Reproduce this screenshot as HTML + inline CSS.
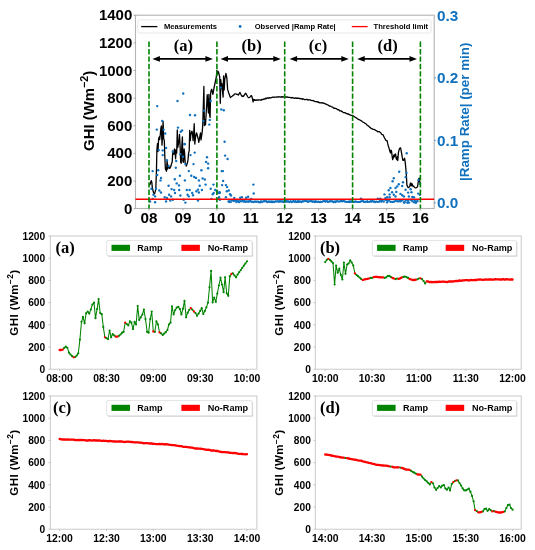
<!DOCTYPE html>
<html lang="en"><head><meta charset="utf-8"><title>GHI ramp detection</title>
<style>html,body{margin:0;padding:0;background:#fff}svg{display:block}</style></head>
<body>
<svg width="535" height="550" viewBox="0 0 535 550">
<rect width="535" height="550" fill="#fff"/>
<rect x="135.5" y="15.2" width="298.7" height="193.3" fill="#fff" stroke="#b4b4b4" stroke-width="1.1"/>
<line x1="133.5" y1="208.7" x2="135.5" y2="208.7" stroke="#999" stroke-width="0.8"/>
<text x="132.3" y="213.7" text-anchor="end" style="font-family:'Liberation Sans',sans-serif;font-weight:bold;font-size:15px" fill="#000">0</text>
<line x1="133.5" y1="181.1" x2="135.5" y2="181.1" stroke="#999" stroke-width="0.8"/>
<text x="132.3" y="186.1" text-anchor="end" style="font-family:'Liberation Sans',sans-serif;font-weight:bold;font-size:15px" fill="#000">200</text>
<line x1="133.5" y1="153.4" x2="135.5" y2="153.4" stroke="#999" stroke-width="0.8"/>
<text x="132.3" y="158.4" text-anchor="end" style="font-family:'Liberation Sans',sans-serif;font-weight:bold;font-size:15px" fill="#000">400</text>
<line x1="133.5" y1="125.8" x2="135.5" y2="125.8" stroke="#999" stroke-width="0.8"/>
<text x="132.3" y="130.8" text-anchor="end" style="font-family:'Liberation Sans',sans-serif;font-weight:bold;font-size:15px" fill="#000">600</text>
<line x1="133.5" y1="98.2" x2="135.5" y2="98.2" stroke="#999" stroke-width="0.8"/>
<text x="132.3" y="103.2" text-anchor="end" style="font-family:'Liberation Sans',sans-serif;font-weight:bold;font-size:15px" fill="#000">800</text>
<line x1="133.5" y1="70.5" x2="135.5" y2="70.5" stroke="#999" stroke-width="0.8"/>
<text x="132.3" y="75.5" text-anchor="end" style="font-family:'Liberation Sans',sans-serif;font-weight:bold;font-size:15px" fill="#000">1000</text>
<line x1="133.5" y1="42.9" x2="135.5" y2="42.9" stroke="#999" stroke-width="0.8"/>
<text x="132.3" y="47.9" text-anchor="end" style="font-family:'Liberation Sans',sans-serif;font-weight:bold;font-size:15px" fill="#000">1200</text>
<line x1="133.5" y1="15.3" x2="135.5" y2="15.3" stroke="#999" stroke-width="0.8"/>
<text x="132.3" y="20.3" text-anchor="end" style="font-family:'Liberation Sans',sans-serif;font-weight:bold;font-size:15px" fill="#000">1400</text>
<line x1="149.0" y1="208.5" x2="149.0" y2="210.5" stroke="#999" stroke-width="0.8"/>
<text x="149.0" y="223.1" text-anchor="middle" style="font-family:'Liberation Sans',sans-serif;font-weight:bold;font-size:15.2px" fill="#000">08</text>
<line x1="182.9" y1="208.5" x2="182.9" y2="210.5" stroke="#999" stroke-width="0.8"/>
<text x="182.9" y="223.1" text-anchor="middle" style="font-family:'Liberation Sans',sans-serif;font-weight:bold;font-size:15.2px" fill="#000">09</text>
<line x1="216.9" y1="208.5" x2="216.9" y2="210.5" stroke="#999" stroke-width="0.8"/>
<text x="216.9" y="223.1" text-anchor="middle" style="font-family:'Liberation Sans',sans-serif;font-weight:bold;font-size:15.2px" fill="#000">10</text>
<line x1="250.8" y1="208.5" x2="250.8" y2="210.5" stroke="#999" stroke-width="0.8"/>
<text x="250.8" y="223.1" text-anchor="middle" style="font-family:'Liberation Sans',sans-serif;font-weight:bold;font-size:15.2px" fill="#000">11</text>
<line x1="284.7" y1="208.5" x2="284.7" y2="210.5" stroke="#999" stroke-width="0.8"/>
<text x="284.7" y="223.1" text-anchor="middle" style="font-family:'Liberation Sans',sans-serif;font-weight:bold;font-size:15.2px" fill="#000">12</text>
<line x1="318.6" y1="208.5" x2="318.6" y2="210.5" stroke="#999" stroke-width="0.8"/>
<text x="318.6" y="223.1" text-anchor="middle" style="font-family:'Liberation Sans',sans-serif;font-weight:bold;font-size:15.2px" fill="#000">13</text>
<line x1="352.6" y1="208.5" x2="352.6" y2="210.5" stroke="#999" stroke-width="0.8"/>
<text x="352.6" y="223.1" text-anchor="middle" style="font-family:'Liberation Sans',sans-serif;font-weight:bold;font-size:15.2px" fill="#000">14</text>
<line x1="386.5" y1="208.5" x2="386.5" y2="210.5" stroke="#999" stroke-width="0.8"/>
<text x="386.5" y="223.1" text-anchor="middle" style="font-family:'Liberation Sans',sans-serif;font-weight:bold;font-size:15.2px" fill="#000">15</text>
<line x1="420.4" y1="208.5" x2="420.4" y2="210.5" stroke="#999" stroke-width="0.8"/>
<text x="420.4" y="223.1" text-anchor="middle" style="font-family:'Liberation Sans',sans-serif;font-weight:bold;font-size:15.2px" fill="#000">16</text>
<line x1="434.2" y1="202.8" x2="435.8" y2="202.8" stroke="#1071be" stroke-width="0.8"/>
<text x="437.1" y="208.2" style="font-family:'Liberation Sans',sans-serif;font-weight:bold;font-size:15.3px" fill="#1071be">0.0</text>
<line x1="434.2" y1="140.3" x2="435.8" y2="140.3" stroke="#1071be" stroke-width="0.8"/>
<text x="437.1" y="145.7" style="font-family:'Liberation Sans',sans-serif;font-weight:bold;font-size:15.3px" fill="#1071be">0.1</text>
<line x1="434.2" y1="77.8" x2="435.8" y2="77.8" stroke="#1071be" stroke-width="0.8"/>
<text x="437.1" y="83.2" style="font-family:'Liberation Sans',sans-serif;font-weight:bold;font-size:15.3px" fill="#1071be">0.2</text>
<text x="437.1" y="20.7" style="font-family:'Liberation Sans',sans-serif;font-weight:bold;font-size:15.3px" fill="#1071be">0.3</text>
<text transform="translate(93.6,110.9) rotate(-90)" text-anchor="middle" style="font-family:'Liberation Sans',sans-serif;font-weight:bold;font-size:14.9px" fill="#000">GHI (Wm<tspan dy="-5.8" font-size="10.7px">−2</tspan><tspan dy="5.8">)</tspan></text>
<text transform="translate(469.4,111.8) rotate(-90)" text-anchor="middle" style="font-family:'Liberation Sans',sans-serif;font-weight:bold;font-size:13.4px" fill="#1071be">|Ramp Rate| (per min)</text>
<polyline fill="none" stroke="#000" stroke-width="1.3" stroke-linejoin="round" points="149.0,184.8 149.6,184.8 150.1,184.4 150.7,182.1 151.3,180.7 151.8,182.1 152.4,188.2 153.0,190.5 153.5,192.5 154.1,193.9 154.7,193.4 155.2,191.6 155.8,188.9 156.4,171.9 156.9,149.7 157.5,143.6 158.0,151.5 158.6,139.1 159.2,136.8 159.7,139.5 160.3,134.6 160.9,128.2 161.4,126.0 162.0,145.2 162.6,133.9 163.1,121.4 163.7,138.9 164.3,140.2 164.8,156.1 165.4,169.0 166.0,170.1 166.5,171.2 167.1,160.6 167.7,169.0 168.2,165.1 168.8,166.7 169.4,168.3 169.9,168.3 170.5,167.2 171.1,165.6 171.6,163.3 172.2,162.2 172.8,150.9 173.3,152.4 173.9,154.3 174.4,149.0 175.0,150.9 175.6,158.8 176.1,149.7 176.7,153.1 177.3,130.0 177.8,147.5 178.4,144.1 179.0,140.7 179.5,134.3 180.1,146.3 180.7,162.2 181.2,163.3 181.8,146.3 182.4,136.8 182.9,161.7 183.5,162.2 184.1,149.0 184.6,153.1 185.2,162.9 185.8,164.0 186.3,166.0 186.9,164.4 187.5,162.6 188.0,159.9 188.6,153.1 189.2,150.9 189.7,130.5 190.3,140.7 190.8,135.0 191.4,132.1 192.0,131.2 192.5,133.9 193.1,140.7 193.7,133.4 194.2,123.7 194.8,144.1 195.4,138.4 195.9,135.0 196.5,132.8 197.1,134.6 197.6,136.8 198.2,138.9 198.8,142.3 199.3,139.5 199.9,136.2 200.5,132.8 201.0,140.0 201.6,136.2 202.2,131.6 202.7,126.0 203.3,106.7 203.9,86.4 204.4,125.5 205.0,119.6 205.5,124.8 206.1,114.7 206.7,104.5 207.2,94.7 207.8,103.3 208.4,112.8 208.9,94.3 209.5,114.2 210.1,117.4 210.6,93.2 211.2,90.2 211.8,89.3 212.3,92.0 212.9,94.3 213.5,90.9 214.0,88.0 214.6,85.2 215.2,82.5 215.7,79.8 216.3,77.1 216.9,70.5 217.4,74.0 218.0,71.3 218.6,72.5 219.1,74.6 219.7,76.6 220.3,103.3 220.8,79.7 221.4,88.7 221.9,83.5 222.5,91.2 223.1,97.1 223.6,75.9 224.2,89.9 224.8,78.4 225.3,77.2 225.9,73.3 226.5,75.9 227.0,79.7 227.6,89.4 228.2,91.2 228.7,93.0 229.3,94.6 229.9,96.3 230.4,97.6 231.0,97.1 231.6,96.6 232.1,96.3 232.7,95.8 233.3,95.1 233.8,95.1 234.4,94.0 235.0,93.8 235.5,93.8 236.1,94.0 236.7,94.3 237.2,94.3 237.8,94.3 238.3,95.1 238.9,94.3 239.5,93.0 240.0,92.5 240.6,93.8 241.2,95.1 241.7,95.8 242.3,96.6 242.9,95.8 243.4,96.3 244.0,95.6 244.6,94.6 245.1,93.8 245.7,93.3 246.3,94.0 246.8,95.1 247.4,96.3 248.0,97.1 248.5,97.6 249.1,97.6 249.7,97.4 250.2,96.9 250.8,95.8 251.4,95.6 251.9,96.6 252.5,98.9 253.1,102.0 253.6,99.3 254.2,99.6 254.7,100.4 255.3,100.0 255.9,100.3 256.4,100.1 257.0,99.9 257.6,100.2 258.1,99.8 258.7,100.1 259.3,99.8 259.8,99.8 260.4,100.0 261.0,100.3 261.5,99.6 262.1,99.4 262.7,99.5 263.2,99.6 263.8,99.1 264.4,98.8 264.9,99.0 265.5,98.2 266.1,98.7 266.6,98.2 267.2,98.0 267.8,97.9 268.3,98.0 268.9,98.3 269.5,97.7 270.0,97.9 270.6,97.9 271.1,97.6 271.7,97.6 272.3,97.2 272.8,97.1 273.4,97.2 274.0,97.5 274.5,97.2 275.1,97.1 275.7,97.2 276.2,97.1 276.8,96.9 277.4,97.2 277.9,97.1 278.5,96.7 279.1,96.9 279.6,96.8 280.2,97.1 280.8,97.0 281.3,96.7 281.9,97.3 282.5,96.7 283.0,96.9 283.6,97.2 284.2,96.8 284.7,97.1 285.3,96.9 285.9,97.0 286.4,97.0 287.0,97.3 287.5,96.9 288.1,97.3 288.7,97.3 289.2,97.3 289.8,97.3 290.4,97.7 290.9,97.8 291.5,97.6 292.1,97.8 292.6,97.4 293.2,97.9 293.8,98.0 294.3,98.3 294.9,98.3 295.5,97.9 296.0,98.1 296.6,98.4 297.2,98.0 297.7,98.4 298.3,98.2 298.9,98.3 299.4,98.3 300.0,98.9 300.6,98.5 301.1,98.6 301.7,98.8 302.3,99.3 302.8,98.7 303.4,99.1 303.9,99.2 304.5,99.6 305.1,99.6 305.6,99.7 306.2,99.3 306.8,99.5 307.3,99.5 307.9,100.0 308.5,100.1 309.0,99.7 309.6,99.8 310.2,100.0 310.7,100.1 311.3,100.5 311.9,100.7 312.4,100.6 313.0,100.5 313.6,100.9 314.1,101.0 314.7,101.3 315.3,101.7 315.8,101.7 316.4,101.7 317.0,101.9 317.5,102.1 318.1,101.7 318.6,102.5 319.2,102.5 319.8,102.8 320.3,102.8 320.9,102.7 321.5,102.8 322.0,102.7 322.6,103.2 323.2,102.9 323.7,103.1 324.3,103.4 324.9,103.7 325.4,104.0 326.0,104.1 326.6,104.3 327.1,104.6 327.7,104.9 328.3,105.3 328.8,105.3 329.4,106.2 330.0,106.2 330.5,106.1 331.1,106.5 331.7,106.8 332.2,107.0 332.8,107.1 333.4,107.9 333.9,108.3 334.5,108.1 335.0,108.4 335.6,108.3 336.2,108.6 336.7,109.0 337.3,109.3 337.9,109.9 338.4,109.7 339.0,109.9 339.6,110.8 340.1,110.8 340.7,110.8 341.3,111.3 341.8,111.2 342.4,111.8 343.0,112.4 343.5,112.6 344.1,112.7 344.7,112.7 345.2,113.0 345.8,113.0 346.4,113.6 346.9,113.6 347.5,114.0 348.1,113.9 348.6,114.0 349.2,114.6 349.8,114.9 350.3,115.0 350.9,115.1 351.4,115.3 352.0,115.5 352.6,115.3 353.1,116.0 353.7,116.2 354.3,116.6 354.8,117.0 355.4,117.3 356.0,117.8 356.5,118.2 357.1,118.4 357.7,118.9 358.2,119.2 358.8,119.6 359.4,119.7 359.9,120.0 360.5,120.4 361.1,120.7 361.6,121.0 362.2,121.5 362.8,121.9 363.3,122.3 363.9,122.5 364.5,122.9 365.0,123.3 365.6,123.5 366.2,124.1 366.7,124.7 367.3,125.1 367.8,125.6 368.4,126.0 369.0,126.4 369.5,127.1 370.1,127.4 370.7,128.0 371.2,128.6 371.8,128.6 372.4,128.9 372.9,129.3 373.5,129.4 374.1,129.5 374.6,129.7 375.2,130.0 375.8,130.4 376.3,130.7 376.9,131.0 377.5,131.7 378.0,131.8 378.6,131.7 379.2,131.6 379.7,132.0 380.3,132.4 380.9,133.0 381.4,133.9 382.0,134.5 382.6,134.6 383.1,134.8 383.7,136.2 384.2,137.3 384.8,138.4 385.4,139.5 385.9,140.4 386.5,140.6 387.1,140.7 387.6,143.2 388.2,145.6 388.8,147.4 389.3,149.1 389.9,151.2 390.5,153.0 391.0,150.1 391.6,151.6 392.2,156.8 392.7,159.7 393.3,157.5 393.9,155.0 394.4,156.8 395.0,154.4 395.6,154.0 396.1,158.2 396.7,159.6 397.3,156.8 397.8,160.5 398.4,152.6 399.0,150.2 399.5,148.7 400.1,148.0 400.6,148.0 401.2,151.2 401.8,154.4 402.3,157.7 402.9,160.3 403.5,160.4 404.0,159.3 404.6,158.3 405.2,162.1 405.7,167.2 406.3,173.9 406.9,185.1 407.4,186.1 408.0,187.6 408.6,187.6 409.1,187.2 409.7,186.5 410.3,183.7 410.8,183.0 411.4,185.8 412.0,183.7 412.5,185.1 413.1,186.5 413.7,186.1 414.2,186.9 414.8,187.5 415.4,187.9 415.9,187.9 416.5,187.6 417.0,187.2 417.6,186.5 418.2,182.3 418.7,178.8 419.3,178.1 419.9,182.3 420.4,184.4"/>
<g fill="#1071be"><circle cx="228.2" cy="201.5" r="0.95"/><circle cx="228.7" cy="201.2" r="0.95"/><circle cx="229.3" cy="202.3" r="0.95"/><circle cx="229.9" cy="200.9" r="0.95"/><circle cx="230.4" cy="202.1" r="0.95"/><circle cx="231.0" cy="202.0" r="0.95"/><circle cx="231.6" cy="200.3" r="0.95"/><circle cx="232.1" cy="200.4" r="0.95"/><circle cx="232.7" cy="200.5" r="0.95"/><circle cx="233.3" cy="200.4" r="0.95"/><circle cx="233.8" cy="201.3" r="0.95"/><circle cx="234.4" cy="200.4" r="0.95"/><circle cx="235.0" cy="200.9" r="0.95"/><circle cx="235.5" cy="200.1" r="0.95"/><circle cx="236.1" cy="202.2" r="0.95"/><circle cx="236.7" cy="200.7" r="0.95"/><circle cx="237.2" cy="201.0" r="0.95"/><circle cx="237.8" cy="201.3" r="0.95"/><circle cx="238.3" cy="202.2" r="0.95"/><circle cx="238.9" cy="200.9" r="0.95"/><circle cx="239.5" cy="202.3" r="0.95"/><circle cx="240.0" cy="201.1" r="0.95"/><circle cx="240.6" cy="201.2" r="0.95"/><circle cx="241.2" cy="201.2" r="0.95"/><circle cx="241.7" cy="199.8" r="0.95"/><circle cx="242.3" cy="201.4" r="0.95"/><circle cx="242.9" cy="200.9" r="0.95"/><circle cx="243.4" cy="200.5" r="0.95"/><circle cx="244.0" cy="202.1" r="0.95"/><circle cx="244.6" cy="200.8" r="0.95"/><circle cx="245.1" cy="201.4" r="0.95"/><circle cx="245.7" cy="202.0" r="0.95"/><circle cx="246.3" cy="201.6" r="0.95"/><circle cx="246.8" cy="201.2" r="0.95"/><circle cx="247.4" cy="201.5" r="0.95"/><circle cx="248.0" cy="201.6" r="0.95"/><circle cx="248.5" cy="202.1" r="0.95"/><circle cx="249.1" cy="200.7" r="0.95"/><circle cx="249.7" cy="201.6" r="0.95"/><circle cx="250.2" cy="201.0" r="0.95"/><circle cx="250.8" cy="201.1" r="0.95"/><circle cx="251.4" cy="202.0" r="0.95"/><circle cx="251.9" cy="201.5" r="0.95"/><circle cx="252.5" cy="201.6" r="0.95"/><circle cx="253.1" cy="202.0" r="0.95"/><circle cx="253.6" cy="202.3" r="0.95"/><circle cx="254.2" cy="201.4" r="0.95"/><circle cx="254.7" cy="201.7" r="0.95"/><circle cx="255.3" cy="201.5" r="0.95"/><circle cx="255.9" cy="201.5" r="0.95"/><circle cx="256.4" cy="201.9" r="0.95"/><circle cx="257.0" cy="201.4" r="0.95"/><circle cx="257.6" cy="201.6" r="0.95"/><circle cx="258.1" cy="201.5" r="0.95"/><circle cx="258.7" cy="202.4" r="0.95"/><circle cx="259.3" cy="201.9" r="0.95"/><circle cx="259.8" cy="202.3" r="0.95"/><circle cx="260.4" cy="202.4" r="0.95"/><circle cx="261.0" cy="201.0" r="0.95"/><circle cx="261.5" cy="201.6" r="0.95"/><circle cx="262.1" cy="202.2" r="0.95"/><circle cx="262.7" cy="202.1" r="0.95"/><circle cx="263.2" cy="201.1" r="0.95"/><circle cx="263.8" cy="201.1" r="0.95"/><circle cx="264.4" cy="201.5" r="0.95"/><circle cx="264.9" cy="201.0" r="0.95"/><circle cx="265.5" cy="201.2" r="0.95"/><circle cx="266.1" cy="201.0" r="0.95"/><circle cx="266.6" cy="201.8" r="0.95"/><circle cx="267.2" cy="202.0" r="0.95"/><circle cx="267.8" cy="202.2" r="0.95"/><circle cx="268.3" cy="201.1" r="0.95"/><circle cx="268.9" cy="201.9" r="0.95"/><circle cx="269.5" cy="201.8" r="0.95"/><circle cx="270.0" cy="201.1" r="0.95"/><circle cx="270.6" cy="202.1" r="0.95"/><circle cx="271.1" cy="202.3" r="0.95"/><circle cx="271.7" cy="201.2" r="0.95"/><circle cx="272.3" cy="202.2" r="0.95"/><circle cx="272.8" cy="201.5" r="0.95"/><circle cx="273.4" cy="201.6" r="0.95"/><circle cx="274.0" cy="202.3" r="0.95"/><circle cx="274.5" cy="202.1" r="0.95"/><circle cx="275.1" cy="201.1" r="0.95"/><circle cx="275.7" cy="201.5" r="0.95"/><circle cx="276.2" cy="201.6" r="0.95"/><circle cx="276.8" cy="201.4" r="0.95"/><circle cx="277.4" cy="201.2" r="0.95"/><circle cx="277.9" cy="201.3" r="0.95"/><circle cx="278.5" cy="201.9" r="0.95"/><circle cx="279.1" cy="200.9" r="0.95"/><circle cx="279.6" cy="201.7" r="0.95"/><circle cx="280.2" cy="201.5" r="0.95"/><circle cx="280.8" cy="200.9" r="0.95"/><circle cx="281.3" cy="201.4" r="0.95"/><circle cx="281.9" cy="201.8" r="0.95"/><circle cx="282.5" cy="201.6" r="0.95"/><circle cx="283.0" cy="201.0" r="0.95"/><circle cx="283.6" cy="202.3" r="0.95"/><circle cx="284.2" cy="202.0" r="0.95"/><circle cx="284.7" cy="202.3" r="0.95"/><circle cx="285.3" cy="201.0" r="0.95"/><circle cx="285.9" cy="201.3" r="0.95"/><circle cx="286.4" cy="201.0" r="0.95"/><circle cx="287.0" cy="202.0" r="0.95"/><circle cx="287.5" cy="201.3" r="0.95"/><circle cx="288.1" cy="201.1" r="0.95"/><circle cx="288.7" cy="201.5" r="0.95"/><circle cx="289.2" cy="202.2" r="0.95"/><circle cx="289.8" cy="202.0" r="0.95"/><circle cx="290.4" cy="201.3" r="0.95"/><circle cx="290.9" cy="201.1" r="0.95"/><circle cx="291.5" cy="202.2" r="0.95"/><circle cx="292.1" cy="201.7" r="0.95"/><circle cx="292.6" cy="201.9" r="0.95"/><circle cx="293.2" cy="201.0" r="0.95"/><circle cx="293.8" cy="201.0" r="0.95"/><circle cx="294.3" cy="201.9" r="0.95"/><circle cx="294.9" cy="201.5" r="0.95"/><circle cx="295.5" cy="201.0" r="0.95"/><circle cx="296.0" cy="202.2" r="0.95"/><circle cx="296.6" cy="201.8" r="0.95"/><circle cx="297.2" cy="202.0" r="0.95"/><circle cx="297.7" cy="201.0" r="0.95"/><circle cx="298.3" cy="202.1" r="0.95"/><circle cx="298.9" cy="201.0" r="0.95"/><circle cx="299.4" cy="202.1" r="0.95"/><circle cx="300.0" cy="201.5" r="0.95"/><circle cx="300.6" cy="201.4" r="0.95"/><circle cx="301.1" cy="201.7" r="0.95"/><circle cx="301.7" cy="202.2" r="0.95"/><circle cx="302.3" cy="201.3" r="0.95"/><circle cx="302.8" cy="201.1" r="0.95"/><circle cx="303.4" cy="201.6" r="0.95"/><circle cx="303.9" cy="201.2" r="0.95"/><circle cx="304.5" cy="201.1" r="0.95"/><circle cx="305.1" cy="201.1" r="0.95"/><circle cx="305.6" cy="201.0" r="0.95"/><circle cx="306.2" cy="201.2" r="0.95"/><circle cx="306.8" cy="201.3" r="0.95"/><circle cx="307.3" cy="201.3" r="0.95"/><circle cx="307.9" cy="202.0" r="0.95"/><circle cx="308.5" cy="201.3" r="0.95"/><circle cx="309.0" cy="201.6" r="0.95"/><circle cx="309.6" cy="201.1" r="0.95"/><circle cx="310.2" cy="201.4" r="0.95"/><circle cx="310.7" cy="200.9" r="0.95"/><circle cx="311.3" cy="201.3" r="0.95"/><circle cx="311.9" cy="200.9" r="0.95"/><circle cx="312.4" cy="201.9" r="0.95"/><circle cx="313.0" cy="201.7" r="0.95"/><circle cx="313.6" cy="201.2" r="0.95"/><circle cx="314.1" cy="201.6" r="0.95"/><circle cx="314.7" cy="202.2" r="0.95"/><circle cx="315.3" cy="201.0" r="0.95"/><circle cx="315.8" cy="202.0" r="0.95"/><circle cx="316.4" cy="201.5" r="0.95"/><circle cx="317.0" cy="201.6" r="0.95"/><circle cx="317.5" cy="202.1" r="0.95"/><circle cx="318.1" cy="201.5" r="0.95"/><circle cx="318.6" cy="201.6" r="0.95"/><circle cx="319.2" cy="201.9" r="0.95"/><circle cx="319.8" cy="202.3" r="0.95"/><circle cx="320.3" cy="201.4" r="0.95"/><circle cx="320.9" cy="202.1" r="0.95"/><circle cx="321.5" cy="201.9" r="0.95"/><circle cx="322.0" cy="201.8" r="0.95"/><circle cx="322.6" cy="201.5" r="0.95"/><circle cx="323.2" cy="201.4" r="0.95"/><circle cx="323.7" cy="201.0" r="0.95"/><circle cx="324.3" cy="201.1" r="0.95"/><circle cx="324.9" cy="201.0" r="0.95"/><circle cx="325.4" cy="201.9" r="0.95"/><circle cx="326.0" cy="201.3" r="0.95"/><circle cx="326.6" cy="201.1" r="0.95"/><circle cx="327.1" cy="201.0" r="0.95"/><circle cx="327.7" cy="202.1" r="0.95"/><circle cx="328.3" cy="202.1" r="0.95"/><circle cx="328.8" cy="201.8" r="0.95"/><circle cx="329.4" cy="201.3" r="0.95"/><circle cx="330.0" cy="201.2" r="0.95"/><circle cx="330.5" cy="201.3" r="0.95"/><circle cx="331.1" cy="201.5" r="0.95"/><circle cx="331.7" cy="201.1" r="0.95"/><circle cx="332.2" cy="201.5" r="0.95"/><circle cx="332.8" cy="201.3" r="0.95"/><circle cx="333.4" cy="202.2" r="0.95"/><circle cx="333.9" cy="202.3" r="0.95"/><circle cx="334.5" cy="201.7" r="0.95"/><circle cx="335.0" cy="201.2" r="0.95"/><circle cx="335.6" cy="202.3" r="0.95"/><circle cx="336.2" cy="201.3" r="0.95"/><circle cx="336.7" cy="201.4" r="0.95"/><circle cx="337.3" cy="200.9" r="0.95"/><circle cx="337.9" cy="201.4" r="0.95"/><circle cx="338.4" cy="201.6" r="0.95"/><circle cx="339.0" cy="201.6" r="0.95"/><circle cx="339.6" cy="201.2" r="0.95"/><circle cx="340.1" cy="201.6" r="0.95"/><circle cx="340.7" cy="200.9" r="0.95"/><circle cx="341.3" cy="201.3" r="0.95"/><circle cx="341.8" cy="201.0" r="0.95"/><circle cx="342.4" cy="201.5" r="0.95"/><circle cx="343.0" cy="201.0" r="0.95"/><circle cx="343.5" cy="200.9" r="0.95"/><circle cx="344.1" cy="201.3" r="0.95"/><circle cx="344.7" cy="201.2" r="0.95"/><circle cx="345.2" cy="201.7" r="0.95"/><circle cx="345.8" cy="201.6" r="0.95"/><circle cx="346.4" cy="202.0" r="0.95"/><circle cx="346.9" cy="201.8" r="0.95"/><circle cx="347.5" cy="201.9" r="0.95"/><circle cx="348.1" cy="202.1" r="0.95"/><circle cx="348.6" cy="201.4" r="0.95"/><circle cx="349.2" cy="201.4" r="0.95"/><circle cx="349.8" cy="202.3" r="0.95"/><circle cx="350.3" cy="201.1" r="0.95"/><circle cx="350.9" cy="201.9" r="0.95"/><circle cx="351.4" cy="201.8" r="0.95"/><circle cx="352.0" cy="201.0" r="0.95"/><circle cx="352.6" cy="202.1" r="0.95"/><circle cx="353.1" cy="202.1" r="0.95"/><circle cx="353.7" cy="201.8" r="0.95"/><circle cx="354.3" cy="201.9" r="0.95"/><circle cx="354.8" cy="202.0" r="0.95"/><circle cx="355.4" cy="201.1" r="0.95"/><circle cx="356.0" cy="201.6" r="0.95"/><circle cx="356.5" cy="201.6" r="0.95"/><circle cx="357.1" cy="202.1" r="0.95"/><circle cx="357.7" cy="202.0" r="0.95"/><circle cx="358.2" cy="202.1" r="0.95"/><circle cx="358.8" cy="201.7" r="0.95"/><circle cx="359.4" cy="202.1" r="0.95"/><circle cx="359.9" cy="201.9" r="0.95"/><circle cx="360.5" cy="201.9" r="0.95"/><circle cx="361.1" cy="201.2" r="0.95"/><circle cx="361.6" cy="200.9" r="0.95"/><circle cx="362.2" cy="201.1" r="0.95"/><circle cx="362.8" cy="201.4" r="0.95"/><circle cx="363.3" cy="201.0" r="0.95"/><circle cx="363.9" cy="202.1" r="0.95"/><circle cx="364.5" cy="201.7" r="0.95"/><circle cx="365.0" cy="201.8" r="0.95"/><circle cx="365.6" cy="201.8" r="0.95"/><circle cx="366.2" cy="201.9" r="0.95"/><circle cx="366.7" cy="201.6" r="0.95"/><circle cx="367.3" cy="200.9" r="0.95"/><circle cx="367.8" cy="202.0" r="0.95"/><circle cx="368.4" cy="201.9" r="0.95"/><circle cx="369.0" cy="201.6" r="0.95"/><circle cx="369.5" cy="201.6" r="0.95"/><circle cx="370.1" cy="201.8" r="0.95"/><circle cx="370.7" cy="201.0" r="0.95"/><circle cx="371.2" cy="201.9" r="0.95"/><circle cx="371.8" cy="201.3" r="0.95"/><circle cx="372.4" cy="201.0" r="0.95"/><circle cx="372.9" cy="201.3" r="0.95"/><circle cx="373.5" cy="201.9" r="0.95"/><circle cx="374.1" cy="201.2" r="0.95"/><circle cx="374.6" cy="201.9" r="0.95"/><circle cx="375.2" cy="202.3" r="0.95"/><circle cx="375.8" cy="201.6" r="0.95"/><circle cx="376.3" cy="201.4" r="0.95"/><circle cx="376.9" cy="201.6" r="0.95"/><circle cx="377.5" cy="201.9" r="0.95"/><circle cx="378.0" cy="202.0" r="0.95"/><circle cx="378.6" cy="201.8" r="0.95"/><circle cx="379.2" cy="201.8" r="0.95"/><circle cx="379.7" cy="201.0" r="0.95"/><circle cx="380.3" cy="201.1" r="0.95"/><circle cx="380.9" cy="201.3" r="0.95"/><circle cx="381.4" cy="201.9" r="0.95"/></g>
<g fill="#1071be"><circle cx="157.2" cy="106.1" r="1.2"/><circle cx="183.2" cy="93.5" r="1.2"/><circle cx="177.5" cy="101.0" r="1.2"/><circle cx="190.0" cy="115.0" r="1.2"/><circle cx="195.0" cy="115.3" r="1.2"/><circle cx="162.2" cy="120.9" r="1.2"/><circle cx="156.8" cy="129.6" r="1.2"/><circle cx="163.6" cy="129.6" r="1.2"/><circle cx="165.2" cy="133.5" r="1.2"/><circle cx="178.0" cy="127.6" r="1.2"/><circle cx="182.1" cy="130.5" r="1.2"/><circle cx="180.7" cy="131.8" r="1.2"/><circle cx="184.6" cy="143.9" r="1.2"/><circle cx="203.9" cy="110.6" r="1.2"/><circle cx="210.7" cy="101.0" r="1.2"/><circle cx="203.4" cy="120.9" r="1.2"/><circle cx="209.8" cy="119.9" r="1.2"/><circle cx="209.3" cy="124.6" r="1.2"/><circle cx="220.8" cy="87.6" r="1.2"/><circle cx="221.3" cy="109.4" r="1.2"/><circle cx="223.8" cy="110.3" r="1.2"/><circle cx="184.6" cy="144.2" r="1.2"/><circle cx="166.1" cy="147.9" r="1.2"/><circle cx="158.8" cy="150.1" r="1.2"/><circle cx="162.7" cy="150.4" r="1.2"/><circle cx="172.8" cy="151.8" r="1.2"/><circle cx="194.7" cy="152.6" r="1.2"/><circle cx="162.7" cy="155.1" r="1.2"/><circle cx="190.5" cy="155.1" r="1.2"/><circle cx="180.4" cy="154.3" r="1.2"/><circle cx="182.9" cy="156.8" r="1.2"/><circle cx="207.0" cy="157.3" r="1.2"/><circle cx="176.2" cy="161.0" r="1.2"/><circle cx="166.9" cy="160.2" r="1.2"/><circle cx="206.1" cy="161.9" r="1.2"/><circle cx="208.1" cy="163.6" r="1.2"/><circle cx="185.4" cy="164.1" r="1.2"/><circle cx="193.5" cy="164.1" r="1.2"/><circle cx="168.6" cy="166.1" r="1.2"/><circle cx="175.8" cy="167.8" r="1.2"/><circle cx="208.1" cy="168.3" r="1.2"/><circle cx="152.6" cy="171.1" r="1.2"/><circle cx="158.2" cy="170.3" r="1.2"/><circle cx="188.8" cy="171.1" r="1.2"/><circle cx="201.4" cy="170.3" r="1.2"/><circle cx="157.2" cy="175.0" r="1.2"/><circle cx="179.9" cy="175.7" r="1.2"/><circle cx="191.3" cy="175.7" r="1.2"/><circle cx="194.2" cy="177.0" r="1.2"/><circle cx="196.0" cy="177.9" r="1.2"/><circle cx="161.0" cy="177.9" r="1.2"/><circle cx="160.5" cy="180.4" r="1.2"/><circle cx="174.8" cy="179.2" r="1.2"/><circle cx="184.9" cy="180.4" r="1.2"/><circle cx="198.9" cy="180.4" r="1.2"/><circle cx="202.6" cy="178.4" r="1.2"/><circle cx="204.8" cy="179.5" r="1.2"/><circle cx="176.7" cy="183.4" r="1.2"/><circle cx="179.0" cy="185.4" r="1.2"/><circle cx="168.6" cy="185.8" r="1.2"/><circle cx="199.7" cy="185.8" r="1.2"/><circle cx="205.6" cy="184.6" r="1.2"/><circle cx="213.5" cy="184.6" r="1.2"/><circle cx="151.4" cy="188.8" r="1.2"/><circle cx="156.0" cy="188.8" r="1.2"/><circle cx="159.3" cy="190.5" r="1.2"/><circle cx="161.0" cy="192.5" r="1.2"/><circle cx="171.6" cy="189.1" r="1.2"/><circle cx="174.2" cy="190.0" r="1.2"/><circle cx="179.2" cy="190.0" r="1.2"/><circle cx="186.8" cy="190.0" r="1.2"/><circle cx="189.6" cy="190.0" r="1.2"/><circle cx="198.0" cy="189.6" r="1.2"/><circle cx="201.9" cy="190.0" r="1.2"/><circle cx="210.7" cy="188.8" r="1.2"/><circle cx="215.2" cy="190.0" r="1.2"/><circle cx="153.5" cy="194.7" r="1.2"/><circle cx="155.1" cy="196.4" r="1.2"/><circle cx="152.6" cy="198.9" r="1.2"/><circle cx="164.7" cy="197.2" r="1.2"/><circle cx="166.9" cy="198.0" r="1.2"/><circle cx="169.1" cy="194.7" r="1.2"/><circle cx="171.1" cy="196.4" r="1.2"/><circle cx="175.0" cy="193.0" r="1.2"/><circle cx="180.4" cy="195.5" r="1.2"/><circle cx="187.6" cy="194.7" r="1.2"/><circle cx="188.8" cy="196.4" r="1.2"/><circle cx="192.2" cy="193.0" r="1.2"/><circle cx="193.0" cy="195.2" r="1.2"/><circle cx="196.4" cy="191.3" r="1.2"/><circle cx="198.9" cy="192.5" r="1.2"/><circle cx="213.7" cy="193.0" r="1.2"/><circle cx="212.7" cy="194.2" r="1.2"/><circle cx="217.1" cy="191.3" r="1.2"/><circle cx="217.9" cy="193.0" r="1.2"/><circle cx="219.6" cy="192.2" r="1.2"/><circle cx="150.1" cy="201.4" r="1.2"/><circle cx="155.1" cy="202.2" r="1.2"/><circle cx="166.1" cy="201.4" r="1.2"/><circle cx="170.3" cy="200.6" r="1.2"/><circle cx="172.8" cy="199.7" r="1.2"/><circle cx="183.7" cy="199.7" r="1.2"/><circle cx="185.4" cy="202.6" r="1.2"/><circle cx="198.0" cy="200.6" r="1.2"/><circle cx="211.5" cy="198.9" r="1.2"/><circle cx="219.1" cy="197.2" r="1.2"/><circle cx="219.9" cy="199.7" r="1.2"/><circle cx="224.6" cy="141.7" r="1.2"/><circle cx="225.1" cy="155.6" r="1.2"/><circle cx="227.6" cy="159.0" r="1.2"/><circle cx="221.7" cy="171.1" r="1.2"/><circle cx="222.9" cy="171.1" r="1.2"/><circle cx="223.1" cy="180.9" r="1.2"/><circle cx="222.1" cy="185.1" r="1.2"/><circle cx="225.9" cy="185.1" r="1.2"/><circle cx="227.1" cy="187.1" r="1.2"/><circle cx="228.8" cy="190.5" r="1.2"/><circle cx="226.8" cy="191.3" r="1.2"/><circle cx="219.7" cy="193.0" r="1.2"/><circle cx="230.1" cy="194.2" r="1.2"/><circle cx="231.0" cy="195.5" r="1.2"/><circle cx="225.9" cy="197.2" r="1.2"/><circle cx="218.7" cy="198.9" r="1.2"/><circle cx="234.3" cy="198.0" r="1.2"/><circle cx="240.2" cy="197.7" r="1.2"/><circle cx="241.9" cy="197.2" r="1.2"/><circle cx="246.1" cy="197.7" r="1.2"/><circle cx="248.1" cy="196.7" r="1.2"/><circle cx="253.4" cy="184.6" r="1.2"/><circle cx="253.7" cy="193.5" r="1.2"/><circle cx="251.2" cy="198.9" r="1.2"/><circle cx="406.7" cy="153.2" r="1.2"/><circle cx="399.2" cy="171.7" r="1.2"/><circle cx="406.4" cy="172.9" r="1.2"/><circle cx="393.8" cy="178.3" r="1.2"/><circle cx="405.6" cy="177.1" r="1.2"/><circle cx="392.6" cy="181.3" r="1.2"/><circle cx="403.0" cy="182.2" r="1.2"/><circle cx="418.5" cy="180.0" r="1.2"/><circle cx="398.8" cy="184.2" r="1.2"/><circle cx="397.2" cy="186.4" r="1.2"/><circle cx="402.2" cy="186.0" r="1.2"/><circle cx="419.9" cy="183.8" r="1.2"/><circle cx="390.4" cy="188.0" r="1.2"/><circle cx="395.5" cy="188.0" r="1.2"/><circle cx="388.7" cy="190.2" r="1.2"/><circle cx="405.6" cy="189.7" r="1.2"/><circle cx="410.6" cy="189.2" r="1.2"/><circle cx="392.1" cy="192.2" r="1.2"/><circle cx="396.3" cy="191.9" r="1.2"/><circle cx="408.1" cy="192.6" r="1.2"/><circle cx="411.5" cy="192.2" r="1.2"/><circle cx="384.5" cy="194.4" r="1.2"/><circle cx="389.6" cy="194.4" r="1.2"/><circle cx="393.8" cy="194.8" r="1.2"/><circle cx="400.5" cy="193.9" r="1.2"/><circle cx="402.2" cy="195.3" r="1.2"/><circle cx="418.2" cy="193.6" r="1.2"/><circle cx="419.9" cy="194.8" r="1.2"/><circle cx="387.1" cy="197.3" r="1.2"/><circle cx="385.4" cy="198.1" r="1.2"/><circle cx="389.6" cy="197.3" r="1.2"/><circle cx="395.5" cy="196.5" r="1.2"/><circle cx="403.9" cy="196.5" r="1.2"/><circle cx="408.9" cy="196.5" r="1.2"/><circle cx="412.3" cy="197.0" r="1.2"/><circle cx="414.0" cy="197.3" r="1.2"/><circle cx="377.8" cy="198.6" r="1.2"/><circle cx="380.3" cy="198.6" r="1.2"/><circle cx="361.0" cy="198.6" r="1.2"/><circle cx="400.5" cy="200.7" r="1.2"/><circle cx="408.1" cy="200.7" r="1.2"/><circle cx="411.5" cy="199.8" r="1.2"/><circle cx="414.8" cy="200.7" r="1.2"/><circle cx="416.5" cy="201.5" r="1.2"/><circle cx="387.1" cy="202.3" r="1.2"/><circle cx="404.7" cy="202.3" r="1.2"/><circle cx="382.0" cy="200.7" r="1.2"/><circle cx="383.7" cy="201.5" r="1.2"/><circle cx="385.4" cy="199.8" r="1.2"/><circle cx="387.1" cy="200.0" r="1.2"/><circle cx="388.8" cy="200.6" r="1.2"/><circle cx="390.5" cy="201.8" r="1.2"/><circle cx="392.2" cy="201.9" r="1.2"/><circle cx="393.9" cy="201.8" r="1.2"/><circle cx="395.6" cy="200.7" r="1.2"/><circle cx="397.3" cy="201.3" r="1.2"/><circle cx="399.0" cy="201.2" r="1.2"/><circle cx="400.6" cy="201.2" r="1.2"/><circle cx="402.3" cy="200.2" r="1.2"/><circle cx="404.0" cy="202.5" r="1.2"/><circle cx="405.7" cy="200.4" r="1.2"/><circle cx="407.4" cy="202.7" r="1.2"/><circle cx="409.1" cy="202.6" r="1.2"/><circle cx="410.8" cy="199.9" r="1.2"/><circle cx="412.5" cy="201.2" r="1.2"/><circle cx="414.2" cy="202.3" r="1.2"/><circle cx="415.9" cy="202.7" r="1.2"/><circle cx="417.6" cy="201.1" r="1.2"/></g>
<line x1="135.5" y1="199.2" x2="434.2" y2="199.2" stroke="#ff0000" stroke-width="1.4"/>
<line x1="149.0" y1="41.6" x2="149.0" y2="208.5" stroke="#028402" stroke-width="1.6" stroke-dasharray="5.4,2.0"/>
<line x1="216.9" y1="41.6" x2="216.9" y2="208.5" stroke="#028402" stroke-width="1.6" stroke-dasharray="5.4,2.0"/>
<line x1="284.7" y1="41.6" x2="284.7" y2="208.5" stroke="#028402" stroke-width="1.6" stroke-dasharray="5.4,2.0"/>
<line x1="352.6" y1="41.6" x2="352.6" y2="208.5" stroke="#028402" stroke-width="1.6" stroke-dasharray="5.4,2.0"/>
<line x1="420.4" y1="41.6" x2="420.4" y2="208.5" stroke="#028402" stroke-width="1.6" stroke-dasharray="5.4,2.0"/>
<line x1="155.4" y1="58.9" x2="209.9" y2="58.9" stroke="#000" stroke-width="1.7"/>
<path d="M152.4 58.9 l7.5 -2.8 v5.6 z M212.9 58.9 l-7.5 -2.8 v5.6 z" fill="#000"/>
<line x1="223.5" y1="58.9" x2="277.8" y2="58.9" stroke="#000" stroke-width="1.7"/>
<path d="M220.5 58.9 l7.5 -2.8 v5.6 z M280.8 58.9 l-7.5 -2.8 v5.6 z" fill="#000"/>
<line x1="292.6" y1="58.9" x2="345.8" y2="58.9" stroke="#000" stroke-width="1.7"/>
<path d="M289.6 58.9 l7.5 -2.8 v5.6 z M348.8 58.9 l-7.5 -2.8 v5.6 z" fill="#000"/>
<line x1="360.2" y1="58.9" x2="414.0" y2="58.9" stroke="#000" stroke-width="1.7"/>
<path d="M357.2 58.9 l7.5 -2.8 v5.6 z M417.0 58.9 l-7.5 -2.8 v5.6 z" fill="#000"/>
<text x="183.3" y="50.6" text-anchor="middle" style="font-family:'Liberation Serif',serif;font-weight:bold;font-size:16.5px" fill="#000">(a)</text>
<text x="251.6" y="50.6" text-anchor="middle" style="font-family:'Liberation Serif',serif;font-weight:bold;font-size:16.5px" fill="#000">(b)</text>
<text x="318" y="50.6" text-anchor="middle" style="font-family:'Liberation Serif',serif;font-weight:bold;font-size:16.5px" fill="#000">(c)</text>
<text x="387.6" y="50.6" text-anchor="middle" style="font-family:'Liberation Serif',serif;font-weight:bold;font-size:16.5px" fill="#000">(d)</text>
<rect x="137.9" y="19.8" width="293.2" height="13.2" rx="1.5" fill="#fff" stroke="#e2e2e2" stroke-width="0.8"/>
<line x1="141.2" y1="26.6" x2="157.4" y2="26.6" stroke="#000" stroke-width="1.3"/>
<text x="163.9" y="29.3" style="font-family:'Liberation Sans',sans-serif;font-weight:bold;font-size:7.6px" fill="#000">Measurements</text>
<circle cx="240.1" cy="26.5" r="1.4" fill="#1071be"/>
<text x="254.7" y="29.3" style="font-family:'Liberation Sans',sans-serif;font-weight:bold;font-size:7.6px" fill="#000">Observed |Ramp Rate|</text>
<line x1="351.8" y1="26.6" x2="367.6" y2="26.6" stroke="#ff0000" stroke-width="1.3"/>
<text x="373.6" y="29.3" style="font-family:'Liberation Sans',sans-serif;font-weight:bold;font-size:7.6px" fill="#000">Threshold limit</text>
<rect x="50.3" y="236" width="206.6" height="133.2" fill="#fff" stroke="#c4c4c4" stroke-width="0.9"/>
<line x1="59.6" y1="369.2" x2="59.6" y2="371.0" stroke="#b0b0b0" stroke-width="0.7"/>
<text x="59.6" y="381.9" text-anchor="middle" style="font-family:'Liberation Sans',sans-serif;font-weight:bold;font-size:10.4px" fill="#000">08:00</text>
<line x1="106.5" y1="369.2" x2="106.5" y2="371.0" stroke="#b0b0b0" stroke-width="0.7"/>
<text x="106.5" y="381.9" text-anchor="middle" style="font-family:'Liberation Sans',sans-serif;font-weight:bold;font-size:10.4px" fill="#000">08:30</text>
<line x1="153.3" y1="369.2" x2="153.3" y2="371.0" stroke="#b0b0b0" stroke-width="0.7"/>
<text x="153.3" y="381.9" text-anchor="middle" style="font-family:'Liberation Sans',sans-serif;font-weight:bold;font-size:10.4px" fill="#000">09:00</text>
<line x1="200.2" y1="369.2" x2="200.2" y2="371.0" stroke="#b0b0b0" stroke-width="0.7"/>
<text x="200.2" y="381.9" text-anchor="middle" style="font-family:'Liberation Sans',sans-serif;font-weight:bold;font-size:10.4px" fill="#000">09:30</text>
<line x1="247.0" y1="369.2" x2="247.0" y2="371.0" stroke="#b0b0b0" stroke-width="0.7"/>
<text x="247.0" y="381.9" text-anchor="middle" style="font-family:'Liberation Sans',sans-serif;font-weight:bold;font-size:10.4px" fill="#000">10:00</text>
<line x1="48.5" y1="369.2" x2="50.3" y2="369.2" stroke="#b0b0b0" stroke-width="0.7"/>
<text x="45.2" y="372.9" text-anchor="end" style="font-family:'Liberation Sans',sans-serif;font-weight:bold;font-size:10.2px" fill="#000">0</text>
<line x1="48.5" y1="347.0" x2="50.3" y2="347.0" stroke="#b0b0b0" stroke-width="0.7"/>
<text x="45.2" y="350.7" text-anchor="end" style="font-family:'Liberation Sans',sans-serif;font-weight:bold;font-size:10.2px" fill="#000">200</text>
<line x1="48.5" y1="324.8" x2="50.3" y2="324.8" stroke="#b0b0b0" stroke-width="0.7"/>
<text x="45.2" y="328.5" text-anchor="end" style="font-family:'Liberation Sans',sans-serif;font-weight:bold;font-size:10.2px" fill="#000">400</text>
<line x1="48.5" y1="302.6" x2="50.3" y2="302.6" stroke="#b0b0b0" stroke-width="0.7"/>
<text x="45.2" y="306.3" text-anchor="end" style="font-family:'Liberation Sans',sans-serif;font-weight:bold;font-size:10.2px" fill="#000">600</text>
<line x1="48.5" y1="280.4" x2="50.3" y2="280.4" stroke="#b0b0b0" stroke-width="0.7"/>
<text x="45.2" y="284.1" text-anchor="end" style="font-family:'Liberation Sans',sans-serif;font-weight:bold;font-size:10.2px" fill="#000">800</text>
<line x1="48.5" y1="258.2" x2="50.3" y2="258.2" stroke="#b0b0b0" stroke-width="0.7"/>
<text x="45.2" y="261.9" text-anchor="end" style="font-family:'Liberation Sans',sans-serif;font-weight:bold;font-size:10.2px" fill="#000">1000</text>
<line x1="48.5" y1="236.0" x2="50.3" y2="236.0" stroke="#b0b0b0" stroke-width="0.7"/>
<text x="45.2" y="239.7" text-anchor="end" style="font-family:'Liberation Sans',sans-serif;font-weight:bold;font-size:10.2px" fill="#000">1200</text>
<text transform="translate(17.6,302.6) rotate(-90)" text-anchor="middle" style="font-family:'Liberation Sans',sans-serif;font-weight:bold;font-size:11.6px;letter-spacing:0.4px" fill="#000">GHI (Wm<tspan dy="-4.4" font-size="8.2px">−2</tspan><tspan dy="4.4">)</tspan></text>
<polyline fill="none" stroke="#028402" stroke-width="1.05" stroke-linejoin="round" points="59.6,350.0 61.2,350.0 62.7,349.6 64.3,347.8 65.8,346.7 67.4,347.8 69.0,352.7 70.5,354.5 72.1,356.2 73.7,357.3 75.2,356.9 76.8,355.5 78.3,353.3 79.9,339.6 81.5,321.8 83.0,316.9 84.6,323.3 86.1,313.3 87.7,311.5 89.3,313.6 90.8,309.6 92.4,304.5 94.0,302.7 95.5,318.2 97.1,309.1 98.6,299.1 100.2,313.1 101.8,314.2 103.3,326.9 104.9,337.3 106.5,338.2 108.0,339.1 109.6,330.5 111.1,337.3 112.7,334.2 114.3,335.5 115.8,336.7 117.4,336.7 118.9,335.8 120.5,334.5 122.1,332.7 123.6,331.8 125.2,322.7 126.8,324.0 128.3,325.5 129.9,321.3 131.4,322.7 133.0,329.1 134.6,321.8 136.1,324.5 137.7,306.0 139.2,320.0 140.8,317.3 142.4,314.5 143.9,309.5 145.5,319.1 147.1,331.8 148.6,332.7 150.2,319.1 151.7,311.5 153.3,331.5 154.9,331.8 156.4,321.3 158.0,324.5 159.5,332.4 161.1,333.3 162.7,334.9 164.2,333.6 165.8,332.2 167.4,330.0 168.9,324.5 170.5,322.7 172.0,306.4 173.6,314.5 175.2,310.0 176.7,307.6 178.3,306.9 179.9,309.1 181.4,314.5 183.0,308.7 184.5,300.9 186.1,317.3 187.7,312.7 189.2,310.0 190.8,308.2 192.3,309.6 193.9,311.5 195.5,313.1 197.0,315.8 198.6,313.6 200.2,310.9 201.7,308.2 203.3,314.0 204.8,310.9 206.4,307.3 208.0,302.7 209.5,287.3 211.1,270.9 212.6,302.4 214.2,297.6 215.8,301.8 217.3,293.6 218.9,285.5 220.5,277.6 222.0,284.5 223.6,292.2 225.1,277.3 226.7,293.3 228.3,295.8 229.8,276.4 231.4,274.0 232.9,273.3 234.5,275.5 236.1,277.3 237.6,274.5 239.2,272.2 240.8,270.0 242.3,267.8 243.9,265.6 245.4,263.5 247.0,261.3"/>
<g fill="#028402"><circle cx="64.3" cy="347.8" r="1.1"/><circle cx="65.8" cy="346.7" r="1.1"/><circle cx="67.4" cy="347.8" r="1.1"/><circle cx="69.0" cy="352.7" r="1.1"/><circle cx="70.5" cy="354.5" r="1.1"/><circle cx="72.1" cy="356.2" r="1.1"/><circle cx="75.2" cy="356.9" r="1.1"/><circle cx="76.8" cy="355.5" r="1.1"/><circle cx="78.3" cy="353.3" r="1.1"/><circle cx="79.9" cy="339.6" r="1.1"/><circle cx="81.5" cy="321.8" r="1.1"/><circle cx="83.0" cy="316.9" r="1.1"/><circle cx="84.6" cy="323.3" r="1.1"/><circle cx="86.1" cy="313.3" r="1.1"/><circle cx="87.7" cy="311.5" r="1.1"/><circle cx="89.3" cy="313.6" r="1.1"/><circle cx="90.8" cy="309.6" r="1.1"/><circle cx="92.4" cy="304.5" r="1.1"/><circle cx="94.0" cy="302.7" r="1.1"/><circle cx="95.5" cy="318.2" r="1.1"/><circle cx="97.1" cy="309.1" r="1.1"/><circle cx="98.6" cy="299.1" r="1.1"/><circle cx="100.2" cy="313.1" r="1.1"/><circle cx="101.8" cy="314.2" r="1.1"/><circle cx="103.3" cy="326.9" r="1.1"/><circle cx="106.5" cy="338.2" r="1.1"/><circle cx="108.0" cy="339.1" r="1.1"/><circle cx="109.6" cy="330.5" r="1.1"/><circle cx="111.1" cy="337.3" r="1.1"/><circle cx="112.7" cy="334.2" r="1.1"/><circle cx="114.3" cy="335.5" r="1.1"/><circle cx="118.9" cy="335.8" r="1.1"/><circle cx="120.5" cy="334.5" r="1.1"/><circle cx="122.1" cy="332.7" r="1.1"/><circle cx="123.6" cy="331.8" r="1.1"/><circle cx="126.8" cy="324.0" r="1.1"/><circle cx="128.3" cy="325.5" r="1.1"/><circle cx="129.9" cy="321.3" r="1.1"/><circle cx="131.4" cy="322.7" r="1.1"/><circle cx="133.0" cy="329.1" r="1.1"/><circle cx="134.6" cy="321.8" r="1.1"/><circle cx="136.1" cy="324.5" r="1.1"/><circle cx="137.7" cy="306.0" r="1.1"/><circle cx="139.2" cy="320.0" r="1.1"/><circle cx="140.8" cy="317.3" r="1.1"/><circle cx="142.4" cy="314.5" r="1.1"/><circle cx="143.9" cy="309.5" r="1.1"/><circle cx="145.5" cy="319.1" r="1.1"/><circle cx="147.1" cy="331.8" r="1.1"/><circle cx="148.6" cy="332.7" r="1.1"/><circle cx="150.2" cy="319.1" r="1.1"/><circle cx="151.7" cy="311.5" r="1.1"/><circle cx="154.9" cy="331.8" r="1.1"/><circle cx="156.4" cy="321.3" r="1.1"/><circle cx="158.0" cy="324.5" r="1.1"/><circle cx="161.1" cy="333.3" r="1.1"/><circle cx="162.7" cy="334.9" r="1.1"/><circle cx="164.2" cy="333.6" r="1.1"/><circle cx="165.8" cy="332.2" r="1.1"/><circle cx="167.4" cy="330.0" r="1.1"/><circle cx="168.9" cy="324.5" r="1.1"/><circle cx="170.5" cy="322.7" r="1.1"/><circle cx="172.0" cy="306.4" r="1.1"/><circle cx="173.6" cy="314.5" r="1.1"/><circle cx="175.2" cy="310.0" r="1.1"/><circle cx="176.7" cy="307.6" r="1.1"/><circle cx="178.3" cy="306.9" r="1.1"/><circle cx="179.9" cy="309.1" r="1.1"/><circle cx="181.4" cy="314.5" r="1.1"/><circle cx="183.0" cy="308.7" r="1.1"/><circle cx="184.5" cy="300.9" r="1.1"/><circle cx="186.1" cy="317.3" r="1.1"/><circle cx="187.7" cy="312.7" r="1.1"/><circle cx="189.2" cy="310.0" r="1.1"/><circle cx="192.3" cy="309.6" r="1.1"/><circle cx="195.5" cy="313.1" r="1.1"/><circle cx="197.0" cy="315.8" r="1.1"/><circle cx="198.6" cy="313.6" r="1.1"/><circle cx="200.2" cy="310.9" r="1.1"/><circle cx="201.7" cy="308.2" r="1.1"/><circle cx="203.3" cy="314.0" r="1.1"/><circle cx="204.8" cy="310.9" r="1.1"/><circle cx="206.4" cy="307.3" r="1.1"/><circle cx="208.0" cy="302.7" r="1.1"/><circle cx="209.5" cy="287.3" r="1.1"/><circle cx="211.1" cy="270.9" r="1.1"/><circle cx="212.6" cy="302.4" r="1.1"/><circle cx="214.2" cy="297.6" r="1.1"/><circle cx="215.8" cy="301.8" r="1.1"/><circle cx="217.3" cy="293.6" r="1.1"/><circle cx="218.9" cy="285.5" r="1.1"/><circle cx="220.5" cy="277.6" r="1.1"/><circle cx="222.0" cy="284.5" r="1.1"/><circle cx="223.6" cy="292.2" r="1.1"/><circle cx="225.1" cy="277.3" r="1.1"/><circle cx="226.7" cy="293.3" r="1.1"/><circle cx="228.3" cy="295.8" r="1.1"/><circle cx="229.8" cy="276.4" r="1.1"/><circle cx="232.9" cy="273.3" r="1.1"/><circle cx="234.5" cy="275.5" r="1.1"/><circle cx="236.1" cy="277.3" r="1.1"/><circle cx="237.6" cy="274.5" r="1.1"/><circle cx="239.2" cy="272.2" r="1.1"/><circle cx="240.8" cy="270.0" r="1.1"/><circle cx="242.3" cy="267.8" r="1.1"/><circle cx="243.9" cy="265.6" r="1.1"/><circle cx="245.4" cy="263.5" r="1.1"/><circle cx="247.0" cy="261.3" r="1.1"/></g>
<polyline fill="none" stroke="#ff0000" stroke-width="2.3" stroke-linecap="round" stroke-linejoin="round" points="59.6,350.0 61.2,350.0 62.7,349.6"/>
<circle cx="73.7" cy="357.3" r="1.15" fill="#ff0000"/>
<circle cx="104.9" cy="337.3" r="1.15" fill="#ff0000"/>
<polyline fill="none" stroke="#ff0000" stroke-width="2.3" stroke-linecap="round" stroke-linejoin="round" points="115.8,336.7 117.4,336.7"/>
<circle cx="125.2" cy="322.7" r="1.15" fill="#ff0000"/>
<circle cx="153.3" cy="331.5" r="1.15" fill="#ff0000"/>
<circle cx="159.5" cy="332.4" r="1.15" fill="#ff0000"/>
<circle cx="190.8" cy="308.2" r="1.15" fill="#ff0000"/>
<circle cx="193.9" cy="311.5" r="1.15" fill="#ff0000"/>
<circle cx="231.4" cy="274.0" r="1.15" fill="#ff0000"/>
<text x="55.4" y="252.9" style="font-family:'Liberation Serif',serif;font-weight:bold;font-size:16.5px" fill="#000">(a)</text>
<rect x="107.7" y="241.6" width="145.4" height="15.2" rx="1.5" fill="#d2d2d2"/>
<rect x="106.7" y="240.6" width="145.4" height="15.2" rx="1.5" fill="#fff" stroke="#dcdcdc" stroke-width="0.8"/>
<rect x="111.5" y="244.8" width="18.5" height="6.1" fill="#028402"/>
<text x="137.3" y="251.2" style="font-family:'Liberation Sans',sans-serif;font-weight:bold;font-size:9.1px" fill="#000">Ramp</text>
<rect x="181.4" y="244.8" width="18.5" height="6.1" fill="#ff0000"/>
<text x="207.7" y="251.2" style="font-family:'Liberation Sans',sans-serif;font-weight:bold;font-size:9.1px" fill="#000">No-Ramp</text>
<rect x="315.3" y="236" width="205.9" height="133.2" fill="#fff" stroke="#c4c4c4" stroke-width="0.9"/>
<line x1="325.2" y1="369.2" x2="325.2" y2="371.0" stroke="#b0b0b0" stroke-width="0.7"/>
<text x="325.2" y="381.9" text-anchor="middle" style="font-family:'Liberation Sans',sans-serif;font-weight:bold;font-size:10.4px" fill="#000">10:00</text>
<line x1="372.1" y1="369.2" x2="372.1" y2="371.0" stroke="#b0b0b0" stroke-width="0.7"/>
<text x="372.1" y="381.9" text-anchor="middle" style="font-family:'Liberation Sans',sans-serif;font-weight:bold;font-size:10.4px" fill="#000">10:30</text>
<line x1="418.9" y1="369.2" x2="418.9" y2="371.0" stroke="#b0b0b0" stroke-width="0.7"/>
<text x="418.9" y="381.9" text-anchor="middle" style="font-family:'Liberation Sans',sans-serif;font-weight:bold;font-size:10.4px" fill="#000">11:00</text>
<line x1="465.8" y1="369.2" x2="465.8" y2="371.0" stroke="#b0b0b0" stroke-width="0.7"/>
<text x="465.8" y="381.9" text-anchor="middle" style="font-family:'Liberation Sans',sans-serif;font-weight:bold;font-size:10.4px" fill="#000">11:30</text>
<line x1="512.6" y1="369.2" x2="512.6" y2="371.0" stroke="#b0b0b0" stroke-width="0.7"/>
<text x="512.6" y="381.9" text-anchor="middle" style="font-family:'Liberation Sans',sans-serif;font-weight:bold;font-size:10.4px" fill="#000">12:00</text>
<line x1="313.5" y1="369.2" x2="315.3" y2="369.2" stroke="#b0b0b0" stroke-width="0.7"/>
<text x="310.8" y="372.9" text-anchor="end" style="font-family:'Liberation Sans',sans-serif;font-weight:bold;font-size:10.2px" fill="#000">0</text>
<line x1="313.5" y1="347.0" x2="315.3" y2="347.0" stroke="#b0b0b0" stroke-width="0.7"/>
<text x="310.8" y="350.7" text-anchor="end" style="font-family:'Liberation Sans',sans-serif;font-weight:bold;font-size:10.2px" fill="#000">200</text>
<line x1="313.5" y1="324.8" x2="315.3" y2="324.8" stroke="#b0b0b0" stroke-width="0.7"/>
<text x="310.8" y="328.5" text-anchor="end" style="font-family:'Liberation Sans',sans-serif;font-weight:bold;font-size:10.2px" fill="#000">400</text>
<line x1="313.5" y1="302.6" x2="315.3" y2="302.6" stroke="#b0b0b0" stroke-width="0.7"/>
<text x="310.8" y="306.3" text-anchor="end" style="font-family:'Liberation Sans',sans-serif;font-weight:bold;font-size:10.2px" fill="#000">600</text>
<line x1="313.5" y1="280.4" x2="315.3" y2="280.4" stroke="#b0b0b0" stroke-width="0.7"/>
<text x="310.8" y="284.1" text-anchor="end" style="font-family:'Liberation Sans',sans-serif;font-weight:bold;font-size:10.2px" fill="#000">800</text>
<line x1="313.5" y1="258.2" x2="315.3" y2="258.2" stroke="#b0b0b0" stroke-width="0.7"/>
<text x="310.8" y="261.9" text-anchor="end" style="font-family:'Liberation Sans',sans-serif;font-weight:bold;font-size:10.2px" fill="#000">1000</text>
<line x1="313.5" y1="236.0" x2="315.3" y2="236.0" stroke="#b0b0b0" stroke-width="0.7"/>
<text x="310.8" y="239.7" text-anchor="end" style="font-family:'Liberation Sans',sans-serif;font-weight:bold;font-size:10.2px" fill="#000">1200</text>
<text transform="translate(283.2,302.6) rotate(-90)" text-anchor="middle" style="font-family:'Liberation Sans',sans-serif;font-weight:bold;font-size:11.6px;letter-spacing:0.4px" fill="#000">GHI (Wm<tspan dy="-4.4" font-size="8.2px">−2</tspan><tspan dy="4.4">)</tspan></text>
<polyline fill="none" stroke="#028402" stroke-width="1.05" stroke-linejoin="round" points="325.2,262.1 326.8,259.8 328.3,258.8 329.9,259.8 331.4,261.4 333.0,263.1 334.6,284.5 336.1,265.6 337.7,272.8 339.3,268.6 340.8,274.8 342.4,279.5 343.9,262.5 345.5,273.8 347.1,264.5 348.6,263.5 350.2,260.4 351.7,262.5 353.3,265.6 354.9,273.4 356.4,274.8 358.0,276.2 359.6,277.5 361.1,278.9 362.7,280.0 364.2,279.5 365.8,279.1 367.4,278.9 368.9,278.5 370.5,277.9 372.1,277.9 373.6,277.1 375.2,276.9 376.7,276.9 378.3,277.1 379.9,277.3 381.4,277.3 383.0,277.3 384.5,277.9 386.1,277.3 387.7,276.2 389.2,275.8 390.8,276.9 392.4,277.9 393.9,278.5 395.5,279.1 397.0,278.5 398.6,278.9 400.2,278.3 401.7,277.5 403.3,276.9 404.8,276.5 406.4,277.1 408.0,277.9 409.5,278.9 411.1,279.5 412.7,280.0 414.2,280.0 415.8,279.7 417.3,279.3 418.9,278.5 420.5,278.3 422.0,279.1 423.6,281.0 425.1,283.4 426.7,281.3 428.3,281.5 429.8,282.2 431.4,281.8 433.0,282.1 434.5,282.0 436.1,281.8 437.6,282.0 439.2,281.7 440.8,281.9 442.3,281.7 443.9,281.7 445.5,281.9 447.0,282.1 448.6,281.5 450.1,281.4 451.7,281.5 453.3,281.5 454.8,281.1 456.4,280.9 457.9,281.1 459.5,280.4 461.1,280.8 462.6,280.4 464.2,280.3 465.8,280.2 467.3,280.2 468.9,280.5 470.4,280.0 472.0,280.2 473.6,280.2 475.1,279.9 476.7,280.0 478.2,279.6 479.8,279.5 481.4,279.6 482.9,279.8 484.5,279.6 486.1,279.5 487.6,279.6 489.2,279.5 490.7,279.4 492.3,279.6 493.9,279.5 495.4,279.2 497.0,279.4 498.5,279.3 500.1,279.5 501.7,279.5 503.2,279.2 504.8,279.7 506.4,279.2 507.9,279.4 509.5,279.6 511.0,279.3 512.6,279.5"/>
<g fill="#028402"><circle cx="325.2" cy="262.1" r="1.1"/><circle cx="326.8" cy="259.8" r="1.1"/><circle cx="329.9" cy="259.8" r="1.1"/><circle cx="331.4" cy="261.4" r="1.1"/><circle cx="333.0" cy="263.1" r="1.1"/><circle cx="334.6" cy="284.5" r="1.1"/><circle cx="336.1" cy="265.6" r="1.1"/><circle cx="337.7" cy="272.8" r="1.1"/><circle cx="339.3" cy="268.6" r="1.1"/><circle cx="340.8" cy="274.8" r="1.1"/><circle cx="342.4" cy="279.5" r="1.1"/><circle cx="343.9" cy="262.5" r="1.1"/><circle cx="345.5" cy="273.8" r="1.1"/><circle cx="347.1" cy="264.5" r="1.1"/><circle cx="348.6" cy="263.5" r="1.1"/><circle cx="350.2" cy="260.4" r="1.1"/><circle cx="351.7" cy="262.5" r="1.1"/><circle cx="353.3" cy="265.6" r="1.1"/><circle cx="356.4" cy="274.8" r="1.1"/><circle cx="358.0" cy="276.2" r="1.1"/><circle cx="359.6" cy="277.5" r="1.1"/><circle cx="361.1" cy="278.9" r="1.1"/><circle cx="370.5" cy="277.9" r="1.1"/><circle cx="372.1" cy="277.9" r="1.1"/><circle cx="384.5" cy="277.9" r="1.1"/><circle cx="386.1" cy="277.3" r="1.1"/><circle cx="387.7" cy="276.2" r="1.1"/><circle cx="389.2" cy="275.8" r="1.1"/><circle cx="390.8" cy="276.9" r="1.1"/><circle cx="395.5" cy="279.1" r="1.1"/><circle cx="397.0" cy="278.5" r="1.1"/><circle cx="403.3" cy="276.9" r="1.1"/><circle cx="404.8" cy="276.5" r="1.1"/><circle cx="406.4" cy="277.1" r="1.1"/><circle cx="408.0" cy="277.9" r="1.1"/><circle cx="417.3" cy="279.3" r="1.1"/><circle cx="418.9" cy="278.5" r="1.1"/><circle cx="422.0" cy="279.1" r="1.1"/><circle cx="423.6" cy="281.0" r="1.1"/><circle cx="425.1" cy="283.4" r="1.1"/></g>
<circle cx="328.3" cy="258.8" r="1.15" fill="#ff0000"/>
<circle cx="354.9" cy="273.4" r="1.15" fill="#ff0000"/>
<polyline fill="none" stroke="#ff0000" stroke-width="2.3" stroke-linecap="round" stroke-linejoin="round" points="362.7,280.0 364.2,279.5 365.8,279.1 367.4,278.9 368.9,278.5"/>
<polyline fill="none" stroke="#ff0000" stroke-width="2.3" stroke-linecap="round" stroke-linejoin="round" points="373.6,277.1 375.2,276.9 376.7,276.9 378.3,277.1 379.9,277.3 381.4,277.3 383.0,277.3"/>
<polyline fill="none" stroke="#ff0000" stroke-width="2.3" stroke-linecap="round" stroke-linejoin="round" points="392.4,277.9 393.9,278.5"/>
<polyline fill="none" stroke="#ff0000" stroke-width="2.3" stroke-linecap="round" stroke-linejoin="round" points="398.6,278.9 400.2,278.3 401.7,277.5"/>
<polyline fill="none" stroke="#ff0000" stroke-width="2.3" stroke-linecap="round" stroke-linejoin="round" points="409.5,278.9 411.1,279.5 412.7,280.0 414.2,280.0 415.8,279.7"/>
<circle cx="420.5" cy="278.3" r="1.15" fill="#ff0000"/>
<polyline fill="none" stroke="#ff0000" stroke-width="2.3" stroke-linecap="round" stroke-linejoin="round" points="426.7,281.3 428.3,281.5 429.8,282.2 431.4,281.8 433.0,282.1 434.5,282.0 436.1,281.8 437.6,282.0 439.2,281.7 440.8,281.9 442.3,281.7 443.9,281.7 445.5,281.9 447.0,282.1 448.6,281.5 450.1,281.4 451.7,281.5 453.3,281.5 454.8,281.1 456.4,280.9 457.9,281.1 459.5,280.4 461.1,280.8 462.6,280.4 464.2,280.3 465.8,280.2 467.3,280.2 468.9,280.5 470.4,280.0 472.0,280.2 473.6,280.2 475.1,279.9 476.7,280.0 478.2,279.6 479.8,279.5 481.4,279.6 482.9,279.8 484.5,279.6 486.1,279.5 487.6,279.6 489.2,279.5 490.7,279.4 492.3,279.6 493.9,279.5 495.4,279.2 497.0,279.4 498.5,279.3 500.1,279.5 501.7,279.5 503.2,279.2 504.8,279.7 506.4,279.2 507.9,279.4 509.5,279.6 511.0,279.3 512.6,279.5"/>
<text x="319.9" y="252.9" style="font-family:'Liberation Serif',serif;font-weight:bold;font-size:16.5px" fill="#000">(b)</text>
<rect x="373.3" y="241.6" width="144.1" height="15.2" rx="1.5" fill="#d2d2d2"/>
<rect x="372.3" y="240.6" width="144.1" height="15.2" rx="1.5" fill="#fff" stroke="#dcdcdc" stroke-width="0.8"/>
<rect x="377.1" y="244.8" width="18.5" height="6.1" fill="#028402"/>
<text x="402.9" y="251.2" style="font-family:'Liberation Sans',sans-serif;font-weight:bold;font-size:9.1px" fill="#000">Ramp</text>
<rect x="445.7" y="244.8" width="18.5" height="6.1" fill="#ff0000"/>
<text x="472.0" y="251.2" style="font-family:'Liberation Sans',sans-serif;font-weight:bold;font-size:9.1px" fill="#000">No-Ramp</text>
<rect x="50.3" y="396" width="206.6" height="133.2" fill="#fff" stroke="#c4c4c4" stroke-width="0.9"/>
<line x1="59.6" y1="529.2" x2="59.6" y2="531.0" stroke="#b0b0b0" stroke-width="0.7"/>
<text x="59.6" y="541.9" text-anchor="middle" style="font-family:'Liberation Sans',sans-serif;font-weight:bold;font-size:10.4px" fill="#000">12:00</text>
<line x1="106.5" y1="529.2" x2="106.5" y2="531.0" stroke="#b0b0b0" stroke-width="0.7"/>
<text x="106.5" y="541.9" text-anchor="middle" style="font-family:'Liberation Sans',sans-serif;font-weight:bold;font-size:10.4px" fill="#000">12:30</text>
<line x1="153.3" y1="529.2" x2="153.3" y2="531.0" stroke="#b0b0b0" stroke-width="0.7"/>
<text x="153.3" y="541.9" text-anchor="middle" style="font-family:'Liberation Sans',sans-serif;font-weight:bold;font-size:10.4px" fill="#000">13:00</text>
<line x1="200.2" y1="529.2" x2="200.2" y2="531.0" stroke="#b0b0b0" stroke-width="0.7"/>
<text x="200.2" y="541.9" text-anchor="middle" style="font-family:'Liberation Sans',sans-serif;font-weight:bold;font-size:10.4px" fill="#000">13:30</text>
<line x1="247.0" y1="529.2" x2="247.0" y2="531.0" stroke="#b0b0b0" stroke-width="0.7"/>
<text x="247.0" y="541.9" text-anchor="middle" style="font-family:'Liberation Sans',sans-serif;font-weight:bold;font-size:10.4px" fill="#000">14:00</text>
<line x1="48.5" y1="529.2" x2="50.3" y2="529.2" stroke="#b0b0b0" stroke-width="0.7"/>
<text x="45.2" y="532.9" text-anchor="end" style="font-family:'Liberation Sans',sans-serif;font-weight:bold;font-size:10.2px" fill="#000">0</text>
<line x1="48.5" y1="507.0" x2="50.3" y2="507.0" stroke="#b0b0b0" stroke-width="0.7"/>
<text x="45.2" y="510.7" text-anchor="end" style="font-family:'Liberation Sans',sans-serif;font-weight:bold;font-size:10.2px" fill="#000">200</text>
<line x1="48.5" y1="484.8" x2="50.3" y2="484.8" stroke="#b0b0b0" stroke-width="0.7"/>
<text x="45.2" y="488.5" text-anchor="end" style="font-family:'Liberation Sans',sans-serif;font-weight:bold;font-size:10.2px" fill="#000">400</text>
<line x1="48.5" y1="462.6" x2="50.3" y2="462.6" stroke="#b0b0b0" stroke-width="0.7"/>
<text x="45.2" y="466.3" text-anchor="end" style="font-family:'Liberation Sans',sans-serif;font-weight:bold;font-size:10.2px" fill="#000">600</text>
<line x1="48.5" y1="440.4" x2="50.3" y2="440.4" stroke="#b0b0b0" stroke-width="0.7"/>
<text x="45.2" y="444.1" text-anchor="end" style="font-family:'Liberation Sans',sans-serif;font-weight:bold;font-size:10.2px" fill="#000">800</text>
<line x1="48.5" y1="418.2" x2="50.3" y2="418.2" stroke="#b0b0b0" stroke-width="0.7"/>
<text x="45.2" y="421.9" text-anchor="end" style="font-family:'Liberation Sans',sans-serif;font-weight:bold;font-size:10.2px" fill="#000">1000</text>
<line x1="48.5" y1="396.0" x2="50.3" y2="396.0" stroke="#b0b0b0" stroke-width="0.7"/>
<text x="45.2" y="399.7" text-anchor="end" style="font-family:'Liberation Sans',sans-serif;font-weight:bold;font-size:10.2px" fill="#000">1200</text>
<text transform="translate(17.6,462.6) rotate(-90)" text-anchor="middle" style="font-family:'Liberation Sans',sans-serif;font-weight:bold;font-size:11.6px;letter-spacing:0.4px" fill="#000">GHI (Wm<tspan dy="-4.4" font-size="8.2px">−2</tspan><tspan dy="4.4">)</tspan></text>
<polyline fill="none" stroke="#028402" stroke-width="1.05" stroke-linejoin="round" points="59.6,438.9 61.2,439.4 62.7,439.5 64.3,439.4 65.8,439.7 67.4,439.4 69.0,439.7 70.5,439.7 72.1,439.7 73.7,439.7 75.2,440.0 76.8,440.1 78.3,439.9 79.9,440.1 81.5,439.8 83.0,440.2 84.6,440.2 86.1,440.5 87.7,440.5 89.3,440.2 90.8,440.3 92.4,440.6 94.0,440.2 95.5,440.5 97.1,440.4 98.6,440.5 100.2,440.5 101.8,441.0 103.3,440.6 104.9,440.8 106.5,440.9 108.0,441.3 109.6,440.9 111.1,441.1 112.7,441.3 114.3,441.5 115.8,441.5 117.4,441.6 118.9,441.3 120.5,441.5 122.1,441.5 123.6,441.9 125.2,442.0 126.8,441.6 128.3,441.7 129.9,441.9 131.4,442.0 133.0,442.2 134.6,442.4 136.1,442.3 137.7,442.3 139.2,442.6 140.8,442.7 142.4,442.9 143.9,443.3 145.5,443.2 147.1,443.2 148.6,443.4 150.2,443.5 151.7,443.3 153.3,443.9 154.9,443.9 156.4,444.1 158.0,444.1 159.5,444.0 161.1,444.1 162.7,444.0 164.2,444.5 165.8,444.2 167.4,444.3 168.9,444.6 170.5,444.8 172.0,445.1 173.6,445.1 175.2,445.3 176.7,445.6 178.3,445.8 179.9,446.1 181.4,446.1 183.0,446.8 184.5,446.9 186.1,446.8 187.7,447.1 189.2,447.3 190.8,447.5 192.3,447.6 193.9,448.2 195.5,448.5 197.0,448.4 198.6,448.6 200.2,448.6 201.7,448.8 203.3,449.1 204.8,449.3 206.4,449.8 208.0,449.7 209.5,449.8 211.1,450.6 212.6,450.5 214.2,450.5 215.8,451.0 217.3,450.9 218.9,451.4 220.5,451.8 222.0,452.0 223.6,452.1 225.1,452.1 226.7,452.3 228.3,452.3 229.8,452.8 231.4,452.8 232.9,453.1 234.5,453.0 236.1,453.1 237.6,453.6 239.2,453.8 240.8,453.9 242.3,454.0 243.9,454.2 245.4,454.3 247.0,454.1"/>
<g fill="#028402"></g>
<polyline fill="none" stroke="#ff0000" stroke-width="2.3" stroke-linecap="round" stroke-linejoin="round" points="59.6,438.9 61.2,439.4 62.7,439.5 64.3,439.4 65.8,439.7 67.4,439.4 69.0,439.7 70.5,439.7 72.1,439.7 73.7,439.7 75.2,440.0 76.8,440.1 78.3,439.9 79.9,440.1 81.5,439.8 83.0,440.2 84.6,440.2 86.1,440.5 87.7,440.5 89.3,440.2 90.8,440.3 92.4,440.6 94.0,440.2 95.5,440.5 97.1,440.4 98.6,440.5 100.2,440.5 101.8,441.0 103.3,440.6 104.9,440.8 106.5,440.9 108.0,441.3 109.6,440.9 111.1,441.1 112.7,441.3 114.3,441.5 115.8,441.5 117.4,441.6 118.9,441.3 120.5,441.5 122.1,441.5 123.6,441.9 125.2,442.0 126.8,441.6 128.3,441.7 129.9,441.9 131.4,442.0 133.0,442.2 134.6,442.4 136.1,442.3 137.7,442.3 139.2,442.6 140.8,442.7 142.4,442.9 143.9,443.3 145.5,443.2 147.1,443.2 148.6,443.4 150.2,443.5 151.7,443.3 153.3,443.9 154.9,443.9 156.4,444.1 158.0,444.1 159.5,444.0 161.1,444.1 162.7,444.0 164.2,444.5 165.8,444.2 167.4,444.3 168.9,444.6 170.5,444.8 172.0,445.1 173.6,445.1 175.2,445.3 176.7,445.6 178.3,445.8 179.9,446.1 181.4,446.1 183.0,446.8 184.5,446.9 186.1,446.8 187.7,447.1 189.2,447.3 190.8,447.5 192.3,447.6 193.9,448.2 195.5,448.5 197.0,448.4 198.6,448.6 200.2,448.6 201.7,448.8 203.3,449.1 204.8,449.3 206.4,449.8 208.0,449.7 209.5,449.8 211.1,450.6 212.6,450.5 214.2,450.5 215.8,451.0 217.3,450.9 218.9,451.4 220.5,451.8 222.0,452.0 223.6,452.1 225.1,452.1 226.7,452.3 228.3,452.3 229.8,452.8 231.4,452.8 232.9,453.1 234.5,453.0 236.1,453.1 237.6,453.6 239.2,453.8 240.8,453.9 242.3,454.0 243.9,454.2 245.4,454.3 247.0,454.1"/>
<text x="53.0" y="412.9" style="font-family:'Liberation Serif',serif;font-weight:bold;font-size:16.5px" fill="#000">(c)</text>
<rect x="107.7" y="401.6" width="145.4" height="15.2" rx="1.5" fill="#d2d2d2"/>
<rect x="106.7" y="400.6" width="145.4" height="15.2" rx="1.5" fill="#fff" stroke="#dcdcdc" stroke-width="0.8"/>
<rect x="111.5" y="404.8" width="18.5" height="6.1" fill="#028402"/>
<text x="137.3" y="411.2" style="font-family:'Liberation Sans',sans-serif;font-weight:bold;font-size:9.1px" fill="#000">Ramp</text>
<rect x="181.4" y="404.8" width="18.5" height="6.1" fill="#ff0000"/>
<text x="207.7" y="411.2" style="font-family:'Liberation Sans',sans-serif;font-weight:bold;font-size:9.1px" fill="#000">No-Ramp</text>
<rect x="315.3" y="396" width="205.9" height="133.2" fill="#fff" stroke="#c4c4c4" stroke-width="0.9"/>
<line x1="325.2" y1="529.2" x2="325.2" y2="531.0" stroke="#b0b0b0" stroke-width="0.7"/>
<text x="325.2" y="541.9" text-anchor="middle" style="font-family:'Liberation Sans',sans-serif;font-weight:bold;font-size:10.4px" fill="#000">14:00</text>
<line x1="372.1" y1="529.2" x2="372.1" y2="531.0" stroke="#b0b0b0" stroke-width="0.7"/>
<text x="372.1" y="541.9" text-anchor="middle" style="font-family:'Liberation Sans',sans-serif;font-weight:bold;font-size:10.4px" fill="#000">14:30</text>
<line x1="418.9" y1="529.2" x2="418.9" y2="531.0" stroke="#b0b0b0" stroke-width="0.7"/>
<text x="418.9" y="541.9" text-anchor="middle" style="font-family:'Liberation Sans',sans-serif;font-weight:bold;font-size:10.4px" fill="#000">15:00</text>
<line x1="465.8" y1="529.2" x2="465.8" y2="531.0" stroke="#b0b0b0" stroke-width="0.7"/>
<text x="465.8" y="541.9" text-anchor="middle" style="font-family:'Liberation Sans',sans-serif;font-weight:bold;font-size:10.4px" fill="#000">15:30</text>
<line x1="512.6" y1="529.2" x2="512.6" y2="531.0" stroke="#b0b0b0" stroke-width="0.7"/>
<text x="512.6" y="541.9" text-anchor="middle" style="font-family:'Liberation Sans',sans-serif;font-weight:bold;font-size:10.4px" fill="#000">16:00</text>
<line x1="313.5" y1="529.2" x2="315.3" y2="529.2" stroke="#b0b0b0" stroke-width="0.7"/>
<text x="310.8" y="532.9" text-anchor="end" style="font-family:'Liberation Sans',sans-serif;font-weight:bold;font-size:10.2px" fill="#000">0</text>
<line x1="313.5" y1="507.0" x2="315.3" y2="507.0" stroke="#b0b0b0" stroke-width="0.7"/>
<text x="310.8" y="510.7" text-anchor="end" style="font-family:'Liberation Sans',sans-serif;font-weight:bold;font-size:10.2px" fill="#000">200</text>
<line x1="313.5" y1="484.8" x2="315.3" y2="484.8" stroke="#b0b0b0" stroke-width="0.7"/>
<text x="310.8" y="488.5" text-anchor="end" style="font-family:'Liberation Sans',sans-serif;font-weight:bold;font-size:10.2px" fill="#000">400</text>
<line x1="313.5" y1="462.6" x2="315.3" y2="462.6" stroke="#b0b0b0" stroke-width="0.7"/>
<text x="310.8" y="466.3" text-anchor="end" style="font-family:'Liberation Sans',sans-serif;font-weight:bold;font-size:10.2px" fill="#000">600</text>
<line x1="313.5" y1="440.4" x2="315.3" y2="440.4" stroke="#b0b0b0" stroke-width="0.7"/>
<text x="310.8" y="444.1" text-anchor="end" style="font-family:'Liberation Sans',sans-serif;font-weight:bold;font-size:10.2px" fill="#000">800</text>
<line x1="313.5" y1="418.2" x2="315.3" y2="418.2" stroke="#b0b0b0" stroke-width="0.7"/>
<text x="310.8" y="421.9" text-anchor="end" style="font-family:'Liberation Sans',sans-serif;font-weight:bold;font-size:10.2px" fill="#000">1000</text>
<line x1="313.5" y1="396.0" x2="315.3" y2="396.0" stroke="#b0b0b0" stroke-width="0.7"/>
<text x="310.8" y="399.7" text-anchor="end" style="font-family:'Liberation Sans',sans-serif;font-weight:bold;font-size:10.2px" fill="#000">1200</text>
<text transform="translate(283.2,462.6) rotate(-90)" text-anchor="middle" style="font-family:'Liberation Sans',sans-serif;font-weight:bold;font-size:11.6px;letter-spacing:0.4px" fill="#000">GHI (Wm<tspan dy="-4.4" font-size="8.2px">−2</tspan><tspan dy="4.4">)</tspan></text>
<polyline fill="none" stroke="#028402" stroke-width="1.05" stroke-linejoin="round" points="325.2,454.5 326.8,454.7 328.3,454.9 329.9,455.2 331.4,455.5 333.0,455.8 334.6,456.2 336.1,456.5 337.7,456.6 339.3,457.0 340.8,457.3 342.4,457.6 343.9,457.7 345.5,458.0 347.1,458.2 348.6,458.5 350.2,458.8 351.7,459.1 353.3,459.5 354.9,459.7 356.4,459.9 358.0,460.3 359.6,460.6 361.1,460.7 362.7,461.3 364.2,461.7 365.8,462.1 367.4,462.4 368.9,462.8 370.5,463.1 372.1,463.6 373.6,463.9 375.2,464.4 376.7,464.8 378.3,464.9 379.9,465.1 381.4,465.4 383.0,465.5 384.5,465.6 386.1,465.7 387.7,465.9 389.2,466.3 390.8,466.6 392.4,466.8 393.9,467.3 395.5,467.4 397.0,467.3 398.6,467.3 400.2,467.6 401.7,467.9 403.3,468.4 404.8,469.1 406.4,469.6 408.0,469.7 409.5,469.8 411.1,470.9 412.7,471.8 414.2,472.7 415.8,473.6 417.3,474.3 418.9,474.5 420.5,474.6 422.0,476.6 423.6,478.5 425.1,480.0 426.7,481.3 428.3,483.0 429.8,484.4 431.4,482.1 433.0,483.3 434.5,487.5 436.1,489.8 437.6,488.0 439.2,486.0 440.8,487.5 442.3,485.6 443.9,485.2 445.5,488.6 447.0,489.7 448.6,487.5 450.1,490.5 451.7,484.1 453.3,482.2 454.8,481.0 456.4,480.4 457.9,480.4 459.5,483.0 461.1,485.6 462.6,488.3 464.2,490.3 465.8,490.4 467.3,489.5 468.9,488.7 470.4,491.7 472.0,495.9 473.6,501.3 475.1,510.2 476.7,511.0 478.2,512.3 479.8,512.3 481.4,511.9 482.9,511.4 484.5,509.1 486.1,508.6 487.6,510.8 489.2,509.1 490.7,510.2 492.3,511.4 493.9,511.0 495.4,511.7 497.0,512.1 498.5,512.5 500.1,512.5 501.7,512.3 503.2,511.9 504.8,511.4 506.4,508.0 507.9,505.2 509.5,504.6 511.0,508.0 512.6,509.7"/>
<g fill="#028402"><circle cx="345.5" cy="458.0" r="1.1"/><circle cx="390.8" cy="466.6" r="1.1"/><circle cx="400.2" cy="467.6" r="1.1"/><circle cx="411.1" cy="470.9" r="1.1"/><circle cx="412.7" cy="471.8" r="1.1"/><circle cx="414.2" cy="472.7" r="1.1"/><circle cx="415.8" cy="473.6" r="1.1"/><circle cx="422.0" cy="476.6" r="1.1"/><circle cx="423.6" cy="478.5" r="1.1"/><circle cx="425.1" cy="480.0" r="1.1"/><circle cx="426.7" cy="481.3" r="1.1"/><circle cx="428.3" cy="483.0" r="1.1"/><circle cx="429.8" cy="484.4" r="1.1"/><circle cx="433.0" cy="483.3" r="1.1"/><circle cx="434.5" cy="487.5" r="1.1"/><circle cx="436.1" cy="489.8" r="1.1"/><circle cx="437.6" cy="488.0" r="1.1"/><circle cx="439.2" cy="486.0" r="1.1"/><circle cx="440.8" cy="487.5" r="1.1"/><circle cx="442.3" cy="485.6" r="1.1"/><circle cx="443.9" cy="485.2" r="1.1"/><circle cx="445.5" cy="488.6" r="1.1"/><circle cx="447.0" cy="489.7" r="1.1"/><circle cx="448.6" cy="487.5" r="1.1"/><circle cx="450.1" cy="490.5" r="1.1"/><circle cx="451.7" cy="484.1" r="1.1"/><circle cx="454.8" cy="481.0" r="1.1"/><circle cx="457.9" cy="480.4" r="1.1"/><circle cx="459.5" cy="483.0" r="1.1"/><circle cx="461.1" cy="485.6" r="1.1"/><circle cx="462.6" cy="488.3" r="1.1"/><circle cx="464.2" cy="490.3" r="1.1"/><circle cx="465.8" cy="490.4" r="1.1"/><circle cx="467.3" cy="489.5" r="1.1"/><circle cx="468.9" cy="488.7" r="1.1"/><circle cx="470.4" cy="491.7" r="1.1"/><circle cx="472.0" cy="495.9" r="1.1"/><circle cx="473.6" cy="501.3" r="1.1"/><circle cx="476.7" cy="511.0" r="1.1"/><circle cx="482.9" cy="511.4" r="1.1"/><circle cx="484.5" cy="509.1" r="1.1"/><circle cx="486.1" cy="508.6" r="1.1"/><circle cx="487.6" cy="510.8" r="1.1"/><circle cx="489.2" cy="509.1" r="1.1"/><circle cx="490.7" cy="510.2" r="1.1"/><circle cx="493.9" cy="511.0" r="1.1"/><circle cx="504.8" cy="511.4" r="1.1"/><circle cx="506.4" cy="508.0" r="1.1"/><circle cx="507.9" cy="505.2" r="1.1"/><circle cx="509.5" cy="504.6" r="1.1"/><circle cx="511.0" cy="508.0" r="1.1"/><circle cx="512.6" cy="509.7" r="1.1"/></g>
<polyline fill="none" stroke="#ff0000" stroke-width="2.3" stroke-linecap="round" stroke-linejoin="round" points="325.2,454.5 326.8,454.7 328.3,454.9 329.9,455.2 331.4,455.5 333.0,455.8 334.6,456.2 336.1,456.5 337.7,456.6 339.3,457.0 340.8,457.3 342.4,457.6 343.9,457.7"/>
<polyline fill="none" stroke="#ff0000" stroke-width="2.3" stroke-linecap="round" stroke-linejoin="round" points="347.1,458.2 348.6,458.5 350.2,458.8 351.7,459.1 353.3,459.5 354.9,459.7 356.4,459.9 358.0,460.3 359.6,460.6 361.1,460.7 362.7,461.3 364.2,461.7 365.8,462.1 367.4,462.4 368.9,462.8 370.5,463.1 372.1,463.6 373.6,463.9 375.2,464.4 376.7,464.8 378.3,464.9 379.9,465.1 381.4,465.4 383.0,465.5 384.5,465.6 386.1,465.7 387.7,465.9 389.2,466.3"/>
<polyline fill="none" stroke="#ff0000" stroke-width="2.3" stroke-linecap="round" stroke-linejoin="round" points="392.4,466.8 393.9,467.3 395.5,467.4 397.0,467.3 398.6,467.3"/>
<polyline fill="none" stroke="#ff0000" stroke-width="2.3" stroke-linecap="round" stroke-linejoin="round" points="401.7,467.9 403.3,468.4 404.8,469.1 406.4,469.6 408.0,469.7 409.5,469.8"/>
<polyline fill="none" stroke="#ff0000" stroke-width="2.3" stroke-linecap="round" stroke-linejoin="round" points="417.3,474.3 418.9,474.5 420.5,474.6"/>
<circle cx="431.4" cy="482.1" r="1.15" fill="#ff0000"/>
<circle cx="453.3" cy="482.2" r="1.15" fill="#ff0000"/>
<circle cx="456.4" cy="480.4" r="1.15" fill="#ff0000"/>
<circle cx="475.1" cy="510.2" r="1.15" fill="#ff0000"/>
<polyline fill="none" stroke="#ff0000" stroke-width="2.3" stroke-linecap="round" stroke-linejoin="round" points="478.2,512.3 479.8,512.3 481.4,511.9"/>
<circle cx="492.3" cy="511.4" r="1.15" fill="#ff0000"/>
<polyline fill="none" stroke="#ff0000" stroke-width="2.3" stroke-linecap="round" stroke-linejoin="round" points="495.4,511.7 497.0,512.1 498.5,512.5 500.1,512.5 501.7,512.3 503.2,511.9"/>
<text x="319.9" y="412.9" style="font-family:'Liberation Serif',serif;font-weight:bold;font-size:16.5px" fill="#000">(d)</text>
<rect x="373.3" y="401.6" width="144.1" height="15.2" rx="1.5" fill="#d2d2d2"/>
<rect x="372.3" y="400.6" width="144.1" height="15.2" rx="1.5" fill="#fff" stroke="#dcdcdc" stroke-width="0.8"/>
<rect x="377.1" y="404.8" width="18.5" height="6.1" fill="#028402"/>
<text x="402.9" y="411.2" style="font-family:'Liberation Sans',sans-serif;font-weight:bold;font-size:9.1px" fill="#000">Ramp</text>
<rect x="445.7" y="404.8" width="18.5" height="6.1" fill="#ff0000"/>
<text x="472.0" y="411.2" style="font-family:'Liberation Sans',sans-serif;font-weight:bold;font-size:9.1px" fill="#000">No-Ramp</text>
</svg>
</body></html>
